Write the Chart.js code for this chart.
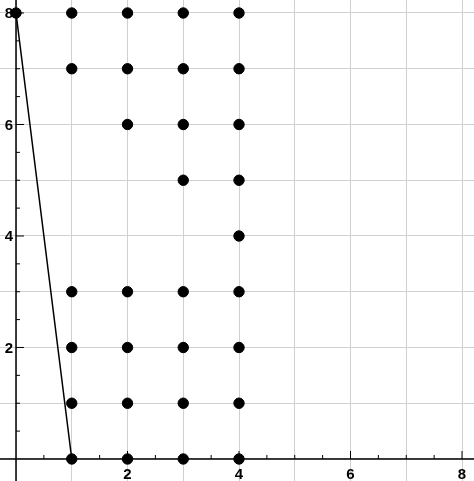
<!DOCTYPE html>
<html>
<head>
<meta charset="utf-8">
<script src="https://cdn.jsdelivr.net/npm/chart.js@4"></script>
<style>
  html, body { margin: 0; padding: 0; background: #fff; }
  #wrap { width: 474px; height: 481px; }
</style>
</head>
<body>
<div id="wrap"><canvas id="chart" width="474" height="481"></canvas></div>
<script>
// dot columns: x position and the y values present in that column
const columnX = [0, 1, 2, 3, 4];
const columnY = [
    [8],
    [8, 7, 3, 2, 1, 0],
    [8, 7, 6, 3, 2, 1, 0],
    [8, 7, 6, 5, 3, 2, 1, 0],
    [8, 7, 6, 5, 4, 3, 2, 1, 0]
];
// the single line segment
const lineX = [0, 1];
const lineY = [8, 0];
// labelled ticks (both axes)
const tickLabels = [2, 4, 6, 8];
const gridValues = [0, 1, 2, 3, 4, 5, 6, 7, 8];

const points = [];
columnX.forEach((x, i) => {
    columnY[i].forEach(y => points.push({ x: x, y: y }));
});
const segment = lineX.map((x, i) => ({ x: x, y: lineY[i] }));

// draws the axes through the origin, with minor/major ticks and labels
const originAxes = {
    id: 'originAxes',
    beforeDatasetsDraw(chart) {
        const ctx = chart.ctx;
        const xs = chart.scales.x;
        const ys = chart.scales.y;
        const x0 = xs.getPixelForValue(0);
        const y0 = ys.getPixelForValue(0);
        const area = chart.chartArea;

        ctx.save();
        ctx.strokeStyle = '#000';
        ctx.lineWidth = 1.5;
        ctx.beginPath();
        ctx.moveTo(area.left, y0);
        ctx.lineTo(area.right, y0);
        ctx.moveTo(x0, area.top);
        ctx.lineTo(x0, area.bottom);
        ctx.stroke();

        ctx.lineWidth = 1;
        ctx.beginPath();
        for (let v = 0.5; v <= 8.0; v += 0.5) {
            const len = (v % 2 === 0) ? 8 : 4;
            const px = xs.getPixelForValue(v);
            ctx.moveTo(px, y0);
            ctx.lineTo(px, y0 - len);
            const py = ys.getPixelForValue(v);
            ctx.moveTo(x0, py);
            ctx.lineTo(x0 + len, py);
        }
        ctx.stroke();

        ctx.fillStyle = '#000';
        ctx.font = 'bold 15px "Liberation Sans", Arial, sans-serif';
        ctx.textAlign = 'center';
        ctx.textBaseline = 'top';
        tickLabels.forEach(v => {
            ctx.fillText(String(v), xs.getPixelForValue(v), y0 + 8);
        });
        ctx.textAlign = 'right';
        ctx.textBaseline = 'middle';
        tickLabels.forEach(v => {
            ctx.fillText(String(v), x0 - 3, ys.getPixelForValue(v) + 1);
        });
        ctx.restore();
    }
};

function keepGrid(scale) {
    scale.ticks = gridValues.map(v => ({ value: v }));
}

new Chart(document.getElementById('chart'), {
    type: 'scatter',
    data: {
        datasets: [
            {
                data: points,
                backgroundColor: '#000',
                borderColor: '#000',
                pointRadius: 5.2,
                pointHoverRadius: 5.2,
                order: 0
            },
            {
                type: 'line',
                data: segment,
                borderColor: '#000',
                borderWidth: 1.5,
                pointRadius: 0,
                fill: false,
                order: 1
            }
        ]
    },
    options: {
        responsive: false,
        animation: false,
        layout: { padding: 0, autoPadding: false },
        plugins: { legend: { display: false }, tooltip: { enabled: false } },
        scales: {
            x: {
                type: 'linear',
                min: -0.287,
                max: 8.215,
                afterBuildTicks: keepGrid,
                ticks: { display: false },
                grid: { color: '#d0d0d0', lineWidth: 1, drawTicks: false },
                border: { display: false }
            },
            y: {
                type: 'linear',
                min: -0.395,
                max: 8.233,
                afterBuildTicks: keepGrid,
                ticks: { display: false },
                grid: { color: '#d0d0d0', lineWidth: 1, drawTicks: false },
                border: { display: false }
            }
        }
    },
    plugins: [originAxes]
});
</script>
</body>
</html>
